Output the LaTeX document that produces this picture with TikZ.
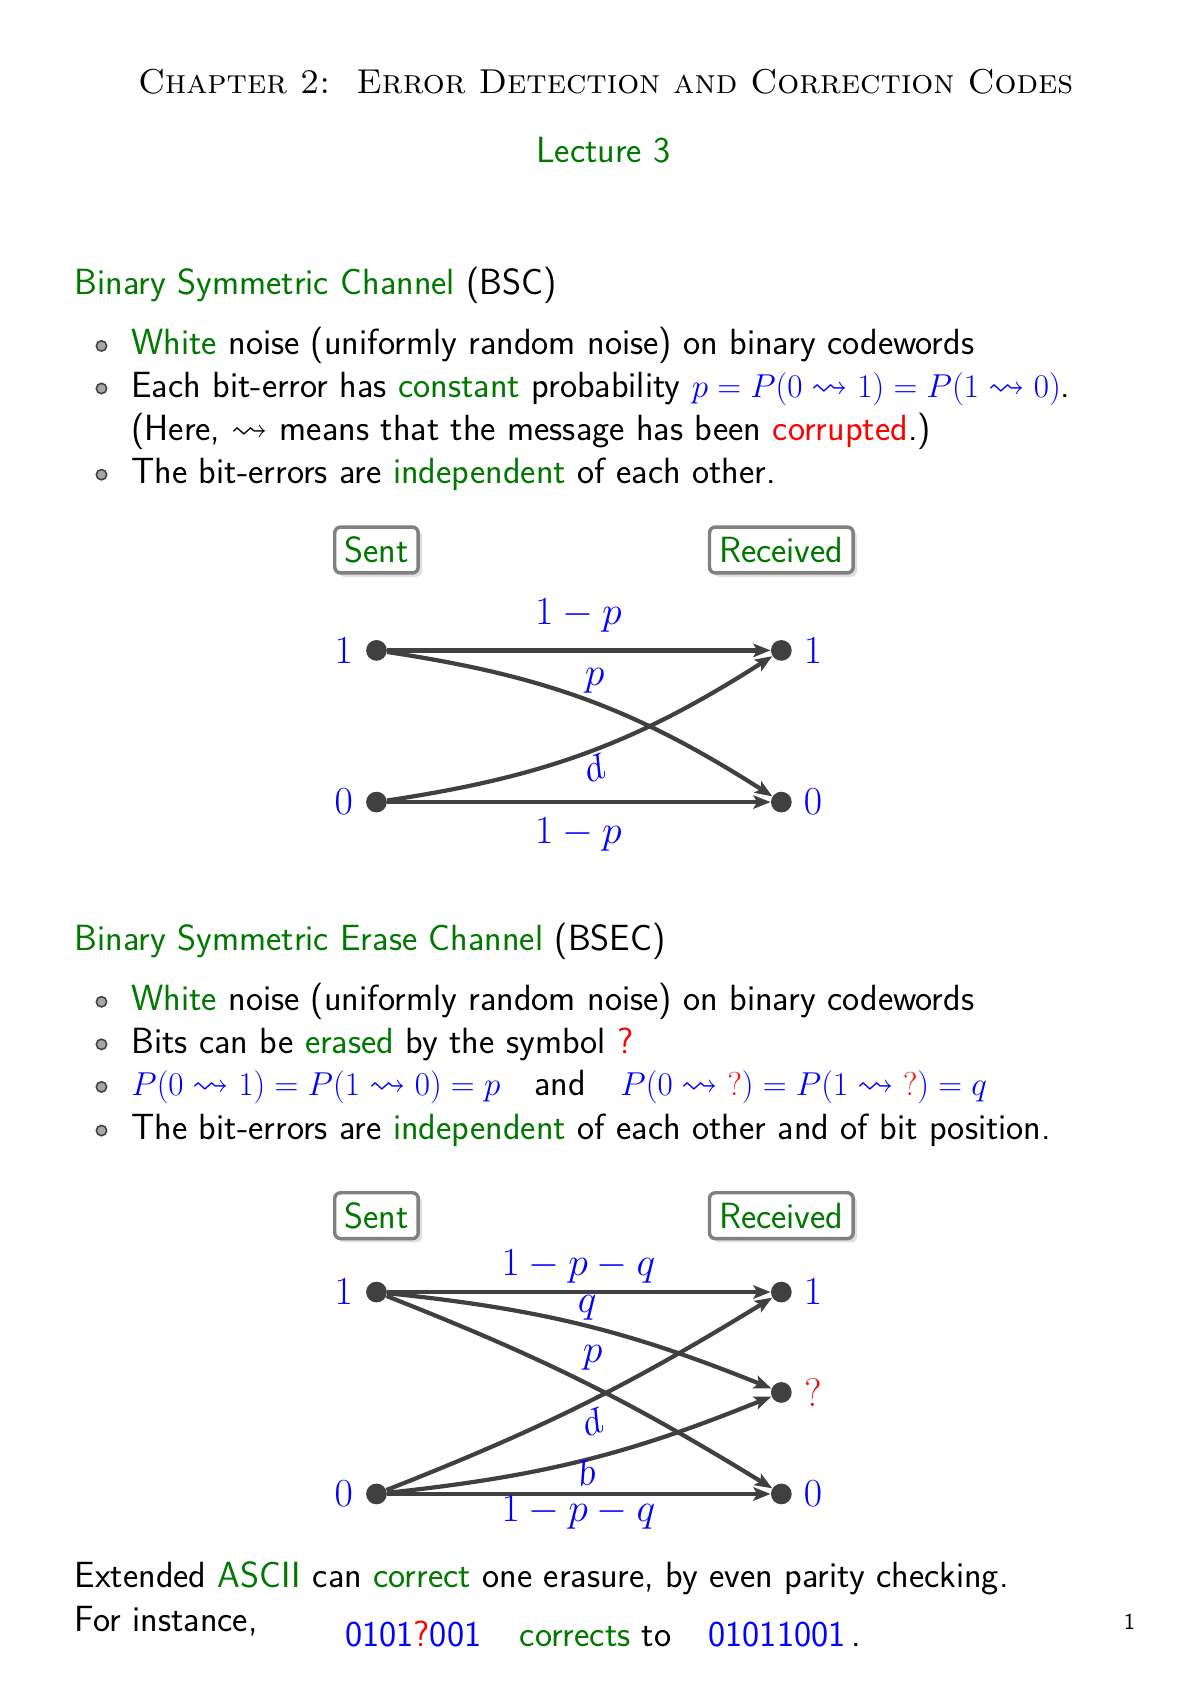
\documentclass[tikz,border=0pt]{standalone}
\usepackage{amsmath,amssymb}
\usepackage{fontspec}
\usetikzlibrary{shadows,arrows.meta}
\definecolor{dgreen}{RGB}{0,120,0}
\definecolor{arr}{RGB}{64,64,64}
\newcommand{\G}[1]{\textcolor{dgreen}{#1}}
\newcommand{\B}[1]{\textcolor{blue}{#1}}
\newcommand{\R}[1]{\textcolor{red}{#1}}
\begin{document}
\begin{tikzpicture}[x=0.02cm,y=-0.02cm,
  txt/.style={anchor=base west,inner sep=0,font=\fontsize{19}{23}\sffamily},
  bul/.style={circle,fill=gray!70,draw=arr,line width=0.8pt,inner sep=0,minimum size=0.19cm},
  box/.style={draw=gray,line width=1.8pt,rounded corners=3pt,fill=white,drop shadow={opacity=0.25,shadow xshift=2pt,shadow yshift=-2pt},font=\fontsize{19}{23}\sffamily\color{dgreen},inner sep=5pt,minimum height=0.84cm},
  dot/.style={circle,fill=arr,inner sep=0,minimum size=0.38cm},
  lab/.style={font=\fontsize{20}{24}\selectfont\color{blue},inner sep=1pt},
  ar/.style={draw=arr,line width=2.2pt,-{Stealth[length=9pt,width=7pt,inset=2pt]}}]
\useasboundingbox (0,0) rectangle (1100,1556);
% title
\node[anchor=base,inner sep=0,font=\fontsize{18}{22}\rmfamily\scshape] (title) at (555,86) {Chapter 2:\ \ Error Detection and Correction Codes};
\node[anchor=base,inner sep=0,font=\fontsize{19}{23}\sffamily\color{dgreen}] (lec) at (553,149) {Lecture 3};
% section 1
\node[txt] (s1) at (68,270) {\G{Binary Symmetric Channel} (BSC)};
\foreach \y/\n in {317/b1,356/b2,435/b3}{\node[bul] (\n) at (93,\y) {};}
\node[txt] (t1) at (120,325) {\G{White} noise (uniformly random noise) on binary codewords};
\node[txt] (t2) at (120,364) {Each bit-error has \G{constant} probability \B{$p=P(0\rightsquigarrow 1)=P(1\rightsquigarrow 0)$}.};
\node[txt] (t2b) at (120,404) {(Here, $\rightsquigarrow$ means that the message has been \R{corrupted}.)};
\node[txt] (t3) at (120,443) {The bit-errors are \G{independent} of each other.};
% diagram 1
\node[box] (sent1) at (345,504) {Sent};
\node[box] (rec1) at (716,504) {Received};
\node[dot] (a1) at (345,596) {};
\node[dot] (a0) at (345,735) {};
\node[dot] (c1) at (716,596) {};
\node[dot] (c0) at (716,735) {};
\node[lab] (la1) at (315,596) {$1$};
\node[lab] (la0) at (315,735) {$0$};
\node[lab] (lc1) at (745,596) {$1$};
\node[lab] (lc0) at (745,735) {$0$};
\draw[ar] (a1) -- (c1);
\draw[ar] (a0) -- (c0);
\draw[ar] (a1) to[bend left=12] (c0);
\draw[ar] (a0) to[bend right=12] (c1);
\node[lab] (e1) at (530,564) {$1-p$};
\node[lab] (e2) at (545,624) {$p$};
\node[lab,rotate=200] (e3) at (545,704) {$p$};
\node[lab] (e4) at (530,765) {$1-p$};
% section 2
\node[txt] (s2) at (68,871) {\G{Binary Symmetric Erase Channel} (BSEC)};
\foreach \y/\n in {918/d1,957/d2,996/d3,1036/d4}{\node[bul] (\n) at (93,\y) {};}
\node[txt] (u1) at (120,926) {\G{White} noise (uniformly random noise) on binary codewords};
\node[txt] (u2) at (120,965) {Bits can be \G{erased} by the symbol \R{?}};
\node[txt] (u3) at (120,1004) {\B{$P(0\rightsquigarrow 1)=P(1\rightsquigarrow 0)=p$}\ \ \ and\ \ \ \B{$P(0\rightsquigarrow \textcolor{red}{?})=P(1\rightsquigarrow \textcolor{red}{?})=q$}};
\node[txt] (u4) at (120,1044) {The bit-errors are \G{independent} of each other and of bit position.};
% diagram 2
\node[box] (sent2) at (345,1114) {Sent};
\node[box] (rec2) at (716,1114) {Received};
\node[dot] (f1) at (345,1184) {};
\node[dot] (f0) at (345,1369) {};
\node[dot] (g1) at (716,1184) {};
\node[dot] (gq) at (716,1276) {};
\node[dot] (g0) at (716,1369) {};
\node[lab] (lf1) at (315,1184) {$1$};
\node[lab] (lf0) at (315,1369) {$0$};
\node[lab] (lg1) at (745,1184) {$1$};
\node[lab] (lgq) at (745,1276) {\textcolor{red}{$?$}};
\node[lab] (lg0) at (745,1369) {$0$};
\draw[ar] (f1) -- (g1);
\draw[ar] (f0) -- (g0);
\draw[ar] (f1) to[bend left=8] (gq);
\draw[ar] (f1) to[bend left=5] (g0);
\draw[ar] (f0) to[bend right=5] (g1);
\draw[ar] (f0) to[bend right=8] (gq);
\node[lab] (h1) at (530,1161) {$1-p-q$};
\node[lab] (h2) at (538,1198) {$q$};
\node[lab] (h3) at (543,1244) {$p$};
\node[lab,rotate=200] (h4) at (543,1303) {$p$};
\node[lab,rotate=190] (h5) at (538,1350) {$q$};
\node[lab] (h6) at (530,1386) {$1-p-q$};
% bottom
\node[txt] (x1) at (68,1455) {Extended \G{ASCII} can \G{correct} one erasure, by even parity checking.};
\node[txt] (x2) at (68,1495) {For instance,};
\node[txt] (x3) at (316,1509) {\B{0101}\R{?}\B{001}};
\node[txt] (x4) at (476,1509) {\G{corrects} to};
\node[txt] (x5) at (649,1509) {\B{01011001}\,.};
\node[anchor=base,inner sep=0,font=\fontsize{12}{14}\sffamily] (pg) at (1035,1493) {1};
\end{tikzpicture}
\end{document}
